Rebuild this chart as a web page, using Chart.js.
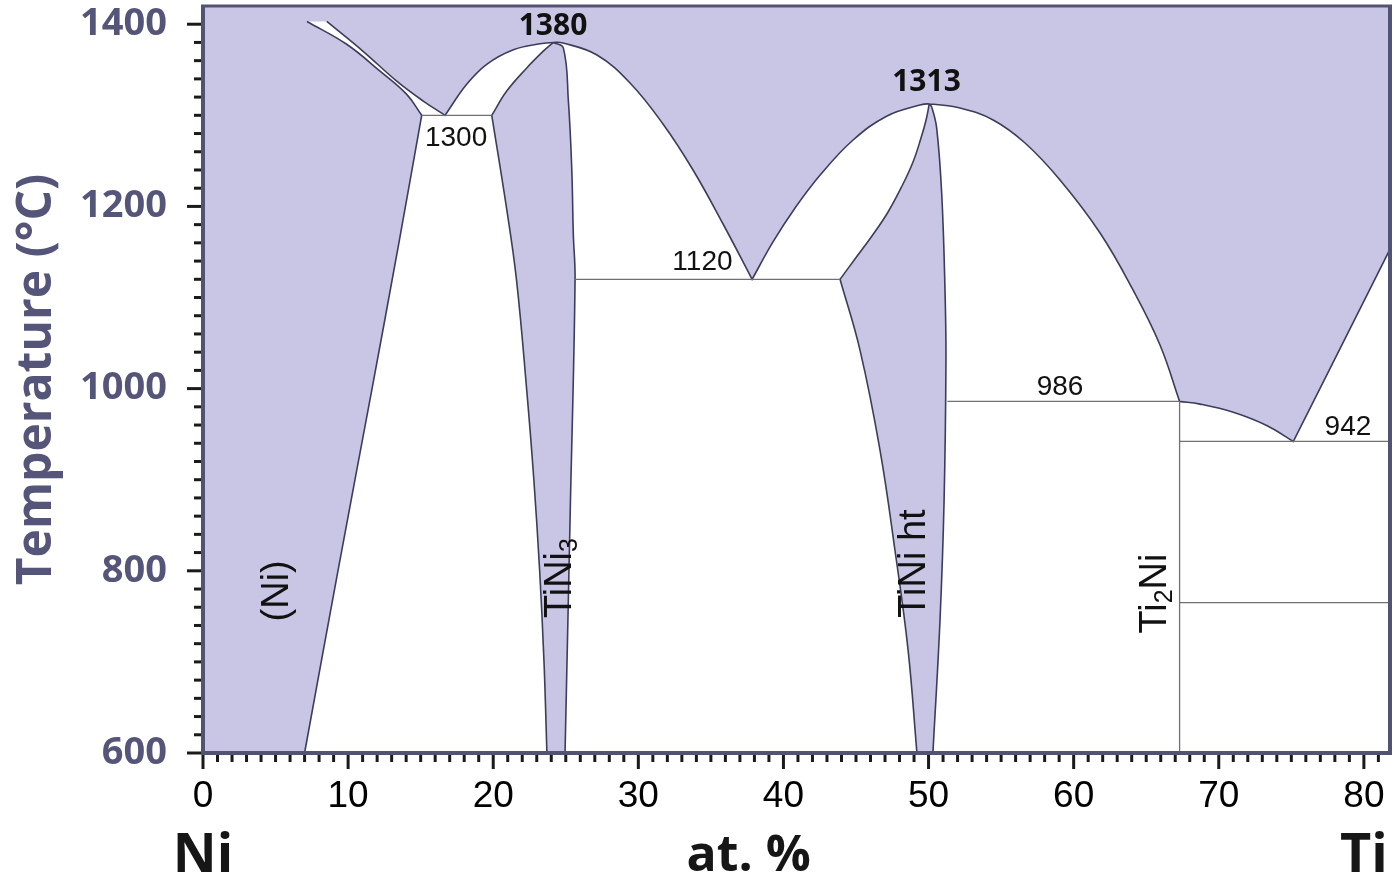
<!DOCTYPE html>
<html><head><meta charset="utf-8">
<script src="https://cdn.jsdelivr.net/npm/chart.js@4.4.1/dist/chart.umd.min.js"></script>
<style>html,body{margin:0;padding:0;background:#fff}#wrap{width:1400px;height:879px}</style>
</head><body><div id="wrap"><canvas id="c" width="1400" height="879"></canvas></div>
<script>
// ===== data: x = at.% Ti, T = temperature in °C =====
const xTickStep = 1, xLabelStep = 10;
const tTickStep = 20, tLabelStep = 200;
const X_MIN = 0, X_MAX = 81.8, T_MIN = 600, T_MAX = 1420;

// (Ni) solid solution boundaries
const niSolidus = [[7.17,1403],[9.9,1378],[12.2,1348.5],[14.04,1323],[15.07,1300]];
const niSolvus  = [[15.07,1300],[13.5,1160],[11.65,1000],[9.3,800],[7.0,600]];

// liquidus branches (between invariant points)
const liqNi    = [[8.53,1403],[11.05,1370],[13.35,1337.5],[15.18,1315.6],[16.68,1300]];
const liqTiNi3 = [[16.68,1300],[18.17,1334],[19.55,1356],[21.39,1372],[23.23,1378.6],[24.14,1380],
                  [24.81,1379.4],[27.15,1366.2],[29.43,1335.5],[31.7,1290.5],[33.77,1240],[35.84,1180.7],[37.84,1120]];
const liqTiNi  = [[37.84,1120],[39.28,1161],[40.8,1198.3],[42.53,1234.5],[44.8,1272.9],[47.14,1299.3],[49.41,1311.3],
                  [50.05,1312.5],[52.17,1308],[54.45,1294.9],[56.65,1269.6],[59.06,1229],[61.82,1170.8],[64.09,1108.3],
                  [65.95,1047.9],[67.3,986]];
const liqTi2Ni = [[67.3,986],[68.71,983],[71.0,974],[73.3,959.5],[75.14,942]];
const liqTi    = [[75.14,942],[81.8,1153]];

// TiNi3 phase field
const tiNi3LowLeft = [[23.7,600],[23.5,700],[23.2,800],[22.8,900],[22.3,1000],[21.6,1120],[20.9,1200],[19.9,1300]];
const tiNi3UpLeft  = [[19.9,1300],[20.93,1326.6],[22.31,1352],[23.45,1370.4],[24.14,1380]];
const tiNi3Right   = [[24.14,1380],[24.83,1374],[25.18,1315.6],[25.41,1242.5],[25.52,1169.5],[25.64,1120],[25.3,860],[24.95,600]];

// TiNi (ht) phase field
const tiNiLowLeft = [[49.2,600],[48.59,713],[47.69,822],[46.66,932],[45.28,1042],[43.9,1120]];
const tiNiUpLeft  = [[43.9,1120],[44.93,1142.3],[46.1,1167.5],[47.21,1193.9],[48.17,1222.4],[48.93,1248.8],[49.48,1275.1],[49.83,1294.9],[50.05,1312.5]];
const tiNiRight   = [[50.05,1312.5],[50.22,1309],[50.56,1286],[50.91,1213],[51.14,1104],[51.2,1031],[51.07,877],[50.79,746],[50.3,600]];

// invariant lines (isotherms) and the Ti2Ni line compound
const isoTemps = [1300, 1120, 986, 942, 765];
const isoFrom  = [15.07, 25.64, 51.3, 67.3, 67.3];
const isoTo    = [19.9, 43.9, 67.3, 81.8, 81.8];
const ti2NiComp = 67.3;
const ti2NiTop = 986;
const labeledIso = [1300, 1120, 986, 942];
const congruentMax = [1380, 1313];

// ===== annotation placement (data coordinates) =====
const isoLabelAt = {1300:[17.44,1275], 1120:[34.42,1139], 986:[59.06,1001], 942:[78.9,958]};
const maxLabelAt = [[24.12,1397],[49.86,1336]];
const phaseLabels = [
  {parts:[['(Ni)',0]], at:[4.96,778]},
  {parts:[['TiNi',0],['3',1]], at:[24.47,792]},
  {parts:[['TiNi ht',0]], at:[48.83,808]},
  {parts:[['Ti',0],['2',1],['Ni',0]], at:[65.5,775]}
];

// ===== styles =====
const LAV = '#c8c6e4', EDGE = '#3c3c5c', ISO = '#707070', FRAME = '#525275', AXTXT = '#55557a';

const toPts = a => a.map(([x,y]) => ({x, y}));
const rev = a => a.slice().reverse();
// join branches; each branch's end points are repeated so the smooth curve keeps a sharp corner there
const chain = (...bs) => bs.flatMap(b => [b[0], ...b, b[b.length - 1]]);

const liquidPolygon = chain(liqNi, liqTiNi3, liqTiNi, liqTi2Ni, liqTi,
  [[X_MAX, T_MAX]], [[X_MIN, T_MAX]], [[X_MIN, T_MIN]], rev(niSolvus), rev(niSolidus));
const tiNi3Polygon = chain(tiNi3LowLeft, tiNi3UpLeft, tiNi3Right);
const tiNiPolygon = chain(tiNiLowLeft, tiNiUpLeft, tiNiRight);

const polyDs = pts => ({data: toPts(pts), showLine: true, fill: 'shape', backgroundColor: LAV,
  borderColor: EDGE, borderWidth: 1.6, pointRadius: 0, tension: 0.4, order: 2});
const lineDs = pts => ({data: toPts(pts), showLine: true, fill: false, borderColor: ISO,
  borderWidth: 1.3, pointRadius: 0, tension: 0, order: 1});

const datasets = [
  polyDs(liquidPolygon), polyDs(tiNi3Polygon), polyDs(tiNiPolygon),
  ...isoTemps.map((t, i) => lineDs([[isoFrom[i], t], [isoTo[i], t]])),
  lineDs([[ti2NiComp, T_MIN], [ti2NiComp, ti2NiTop]])
];

const decor = {
  id: 'decor',
  afterDatasetsDraw(chart) {
    const {ctx, chartArea: a, scales: {x, y}} = chart;
    ctx.save();
    // frame
    ctx.strokeStyle = FRAME;
    ctx.lineWidth = 4;
    ctx.beginPath();
    ctx.moveTo(a.left, a.top); ctx.lineTo(a.left, a.bottom); ctx.lineTo(a.right, a.bottom); ctx.lineTo(a.right, a.top);
    ctx.stroke();
    ctx.lineWidth = 3;
    ctx.beginPath(); ctx.moveTo(a.left - 2, a.top); ctx.lineTo(a.right + 2, a.top); ctx.stroke();
    // tick marks
    ctx.strokeStyle = '#1a1a1a';
    ctx.lineWidth = 3;
    x.ticks.forEach(t => {
      const px = x.getPixelForValue(t.value);
      const major = Math.abs(t.value % xLabelStep) < 1e-6;
      ctx.beginPath(); ctx.moveTo(px, a.bottom + 2); ctx.lineTo(px, a.bottom + (major ? 16 : 9)); ctx.stroke();
    });
    y.ticks.forEach(t => {
      if (t.value > 1400) return;
      const py = y.getPixelForValue(t.value);
      const major = Math.abs(t.value % tLabelStep) < 1e-6;
      ctx.beginPath(); ctx.moveTo(a.left - 2, py); ctx.lineTo(a.left - (major ? 16 : 9), py); ctx.stroke();
    });
    // isotherm labels
    ctx.fillStyle = '#111';
    ctx.textAlign = 'center'; ctx.textBaseline = 'middle';
    ctx.font = '28px "Liberation Sans", Arial, sans-serif';
    labeledIso.forEach(t => {
      const [lx, ly] = isoLabelAt[t];
      ctx.fillText(String(t), x.getPixelForValue(lx), y.getPixelForValue(ly));
    });
    ctx.font = 'bold 30px "Open Sans", sans-serif';
    congruentMax.forEach((t, i) => {
      const [lx, ly] = maxLabelAt[i];
      ctx.fillText(String(t), x.getPixelForValue(lx), y.getPixelForValue(ly));
    });
    // rotated phase labels
    const big = '38px "Liberation Sans", Arial, sans-serif', sub = '25px "Liberation Sans", Arial, sans-serif';
    phaseLabels.forEach(l => {
      let total = 0;
      const w = l.parts.map(([s, isSub]) => { ctx.font = isSub ? sub : big; const m = ctx.measureText(s).width; total += m; return m; });
      ctx.save();
      ctx.translate(x.getPixelForValue(l.at[0]), y.getPixelForValue(l.at[1]));
      ctx.rotate(-Math.PI / 2);
      ctx.textAlign = 'left'; ctx.textBaseline = 'alphabetic';
      let cx = -total / 2;
      l.parts.forEach(([s, isSub], i) => {
        ctx.font = isSub ? sub : big;
        ctx.fillText(s, cx, isSub ? 19 : 13);
        cx += w[i];
      });
      ctx.restore();
    });
    // composition end labels
    ctx.fillStyle = '#161616';
    ctx.font = 'bold 54px "Open Sans", sans-serif';
    ctx.textBaseline = 'middle';
    const by = a.bottom + 104;
    ctx.fillText('Ni', x.getPixelForValue(0), by);
    ctx.fillText('Ti', x.getPixelForValue(80), by);
    ctx.font = 'bold 50px "Open Sans", sans-serif';
    ctx.fillText('at. %', x.getPixelForValue(37.6), by);
    ctx.restore();
  }
};

new Chart(document.getElementById('c'), {
  type: 'scatter',
  data: {datasets},
  options: {
    responsive: false, animation: false, events: [],
    layout: {padding: {left: 0, right: 10, top: 6, bottom: 0}},
    plugins: {legend: {display: false}, tooltip: {enabled: false}},
    scales: {
      x: {
        type: 'linear', min: X_MIN, max: X_MAX,
        grid: {display: false, drawTicks: false}, border: {display: false},
        ticks: {stepSize: xTickStep, autoSkip: false, maxRotation: 0, includeBounds: false, padding: 22,
          color: '#000', font: {family: '"Liberation Sans", Arial, sans-serif', size: 37},
          callback: v => (Math.abs(v % xLabelStep) < 1e-6 ? String(Math.round(v)) : '')},
        afterFit: s => { s.height = 126; s.paddingLeft = 0; s.paddingRight = 0; }
      },
      y: {
        type: 'linear', min: T_MIN, max: T_MAX,
        grid: {display: false, drawTicks: false}, border: {display: false},
        ticks: {stepSize: tTickStep, autoSkip: false, includeBounds: false, padding: 36,
          color: AXTXT, font: {family: '"Open Sans", sans-serif', size: 38, weight: 'bold'},
          callback: v => (Math.abs(v % tLabelStep) < 1e-6 && v <= 1400 ? String(v) : '')},
        title: {display: true, text: 'Temperature (°C)', color: AXTXT, padding: {top: 9, bottom: 0},
          font: {family: '"Open Sans", sans-serif', size: 48, weight: 'bold'}},
        afterFit: s => { s.width = 203; s.paddingTop = 0; s.paddingBottom = 0; }
      }
    }
  },
  plugins: [decor]
});
</script>
</body></html>
